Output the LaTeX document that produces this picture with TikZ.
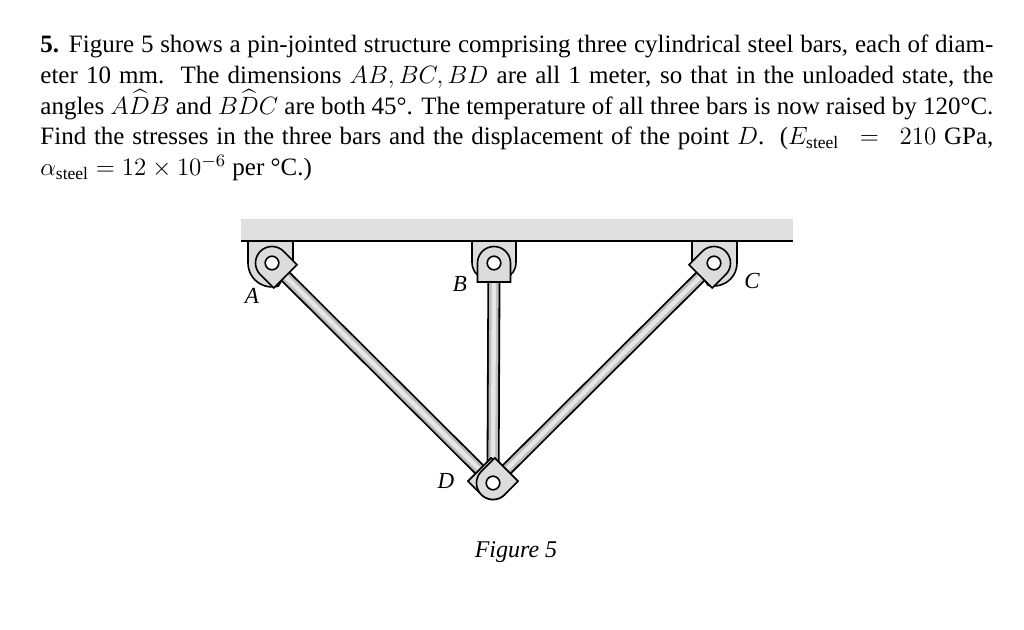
\documentclass[tikz,border=0pt]{standalone}
\usepackage{fix-cm}
\usepackage{amsmath,amssymb}
\usepackage{fontspec}
\setmainfont{Liberation Serif}
\usetikzlibrary{positioning}

\definecolor{wallgray}{HTML}{E0E0E0}
\definecolor{lugfill}{HTML}{DCDCDC}
\definecolor{barmid}{HTML}{BDBDBD}
\definecolor{barlight}{HTML}{E6E6E6}

\tikzset{
  part/.style={draw=black,fill=lugfill,line width=0.8pt},
  barline/.style={draw=black,line width=6.5pt,
    postaction={draw=barmid,line width=4.7pt},
    postaction={draw=barlight,line width=2.2pt}},
  pointname/.style={font=\fontsize{11.5}{13}\selectfont\itshape,inner sep=0pt},
  lug/.pic={
    \draw[part] (-16.5,19) -- (-16.5,0) arc (180:0:8.25pt) -- (16.5,19) -- cycle;
    \draw[line width=0.8pt,fill=white] (0,0) circle (3.4pt);
  }
}

\begin{document}
\begin{tikzpicture}[x=0.5pt,y=-0.5pt]
  \useasboundingbox (0,0) rectangle (1024,630);
  % problem text
  \node (problem) [anchor=north west,inner sep=0pt,text width=476.5pt,align=justify,
    font=\fontsize{12.5}{15.3}\selectfont] at (40,35) {%
    \textbf{5.} Figure 5 shows a pin-jointed structure comprising three cylindrical steel bars, each of diam-\linebreak
    eter 10 mm.\ \ The dimensions $AB, BC, BD$ are all 1 meter, so that in the unloaded state, the\linebreak
    angles $A\widehat{D}B$ and $B\widehat{D}C$ are both 45°. The temperature of all three bars is now raised by 120°C.\linebreak
    Find the stresses in the three bars and the displacement of the point $D$.\ \ ($E_{\text{steel}}\;=\;210$ GPa,\linebreak
    $\alpha_{\text{steel}}=12\times10^{-6}$ per °C.)};

  % ceiling
  \fill[wallgray] (241,219) rectangle (793,241);
  \coordinate (A) at (272,263);
  \coordinate (B) at (494,263);
  \coordinate (C) at (714,263);
  \coordinate (D) at (493,483);

  % brackets
  \draw[part] (248,241) -- (248,263) arc (180:285:12pt) -- (293,262) -- (293,241);
  \draw[part] (737,241) -- (737,263) arc (0:-105:11.5pt) -- (692,262) -- (692,241);
  \draw[part] (472,241) -- (472,262) .. controls (472,270) and (476,275) .. (481,277)
    -- (507,277) .. controls (512,275) and (516,270) .. (516,262) -- (516,241);
  \draw[line width=1.1pt] (241,241) -- (793,241);

  % bars
  \path (A) edge[barline] (D)
    (B) edge[barline] (D)
    (C) edge[barline] (D);

  % lugs
  \pic[rotate=45] at (A) {lug};
  \pic at (B) {lug};
  \pic[rotate=-45] at (C) {lug};
  \pic[rotate=-135] at (D) {lug};
  \pic[rotate=135] at (D) {lug};

  % names
  \node (nameA) [pointname] at (252,296) {A};
  \node (nameB) [pointname] at (460,284) {B};
  \node (nameC) [pointname] at (752,281) {C};
  \node (nameD) [pointname] at (446,481) {D};
  \node (caption) [font=\fontsize{12}{14}\selectfont\itshape,inner sep=0pt] at (516,552) {Figure 5};
\end{tikzpicture}
\end{document}
